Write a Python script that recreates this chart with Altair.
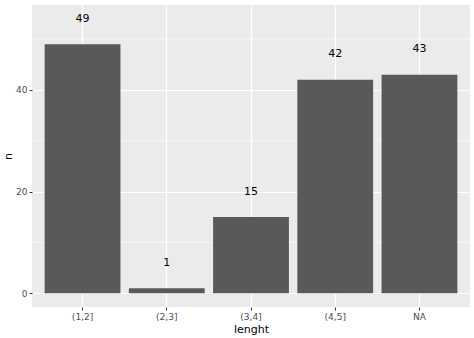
import altair as alt
import pandas as pd

categories = ["(1,2]", "(2,3]", "(3,4]", "(4,5]", "NA"]
counts = [49, 1, 15, 42, 43]
major_breaks = [0, 20, 40]
minor_breaks = [10, 30, 50]

df = pd.DataFrame({"lenght": categories, "n": counts})
minor_df = pd.DataFrame({"v": minor_breaks})

yscale = alt.Scale(domain=[-2.7, 56.7], nice=False, zero=False)
xscale = alt.Scale(domain=categories, paddingInner=0.1, paddingOuter=0.15)

base = alt.Chart(df)

minor = alt.Chart(minor_df).mark_rule(color="white", strokeWidth=0.6).encode(
    y=alt.Y("v:Q", scale=yscale)
)

bars = base.mark_bar(color="#595959").encode(
    x=alt.X("lenght:N", scale=xscale, sort=categories,
            axis=alt.Axis(title="lenght", labelAngle=0, bandPosition=0.5,
                          grid=True, gridColor="white", gridWidth=1.2,
                          domain=False, tickColor="#333333", tickSize=3,
                          tickWidth=1, labelColor="#4D4D4D", labelFontSize=9,
                          labelPadding=2, titleFontSize=11, titleColor="black",
                          titleFontWeight="normal", titlePadding=2,
                          labelFont="DejaVu Sans", titleFont="DejaVu Sans")),
    y=alt.Y("n:Q", scale=yscale,
            axis=alt.Axis(title="n", values=major_breaks, grid=True,
                          gridColor="white", gridWidth=1.2, domain=False,
                          tickColor="#333333", tickSize=3, tickWidth=1,
                          labelColor="#4D4D4D", labelFontSize=9, labelPadding=2,
                          titleFontSize=11, titleColor="black",
                          titleFontWeight="normal", titlePadding=2,
                          labelFont="DejaVu Sans", titleFont="DejaVu Sans")),
)

labels = base.transform_calculate(ly="datum.n + 5").mark_text(
    color="black", fontSize=11, baseline="middle", font="DejaVu Sans"
).encode(
    x=alt.X("lenght:N", scale=xscale, sort=categories),
    y=alt.Y("ly:Q", scale=yscale),
    text="n:Q",
)

chart = alt.layer(minor, bars, labels).properties(
    width=438, height=302,
    autosize=alt.AutoSizeParams(type="none"),
    padding={"left": 32, "top": 5, "right": 4, "bottom": 31},
    background="white",
).configure_view(fill="#EBEBEB", stroke=None)

chart.save("out.html", embed_options={"renderer": "svg", "actions": False})
